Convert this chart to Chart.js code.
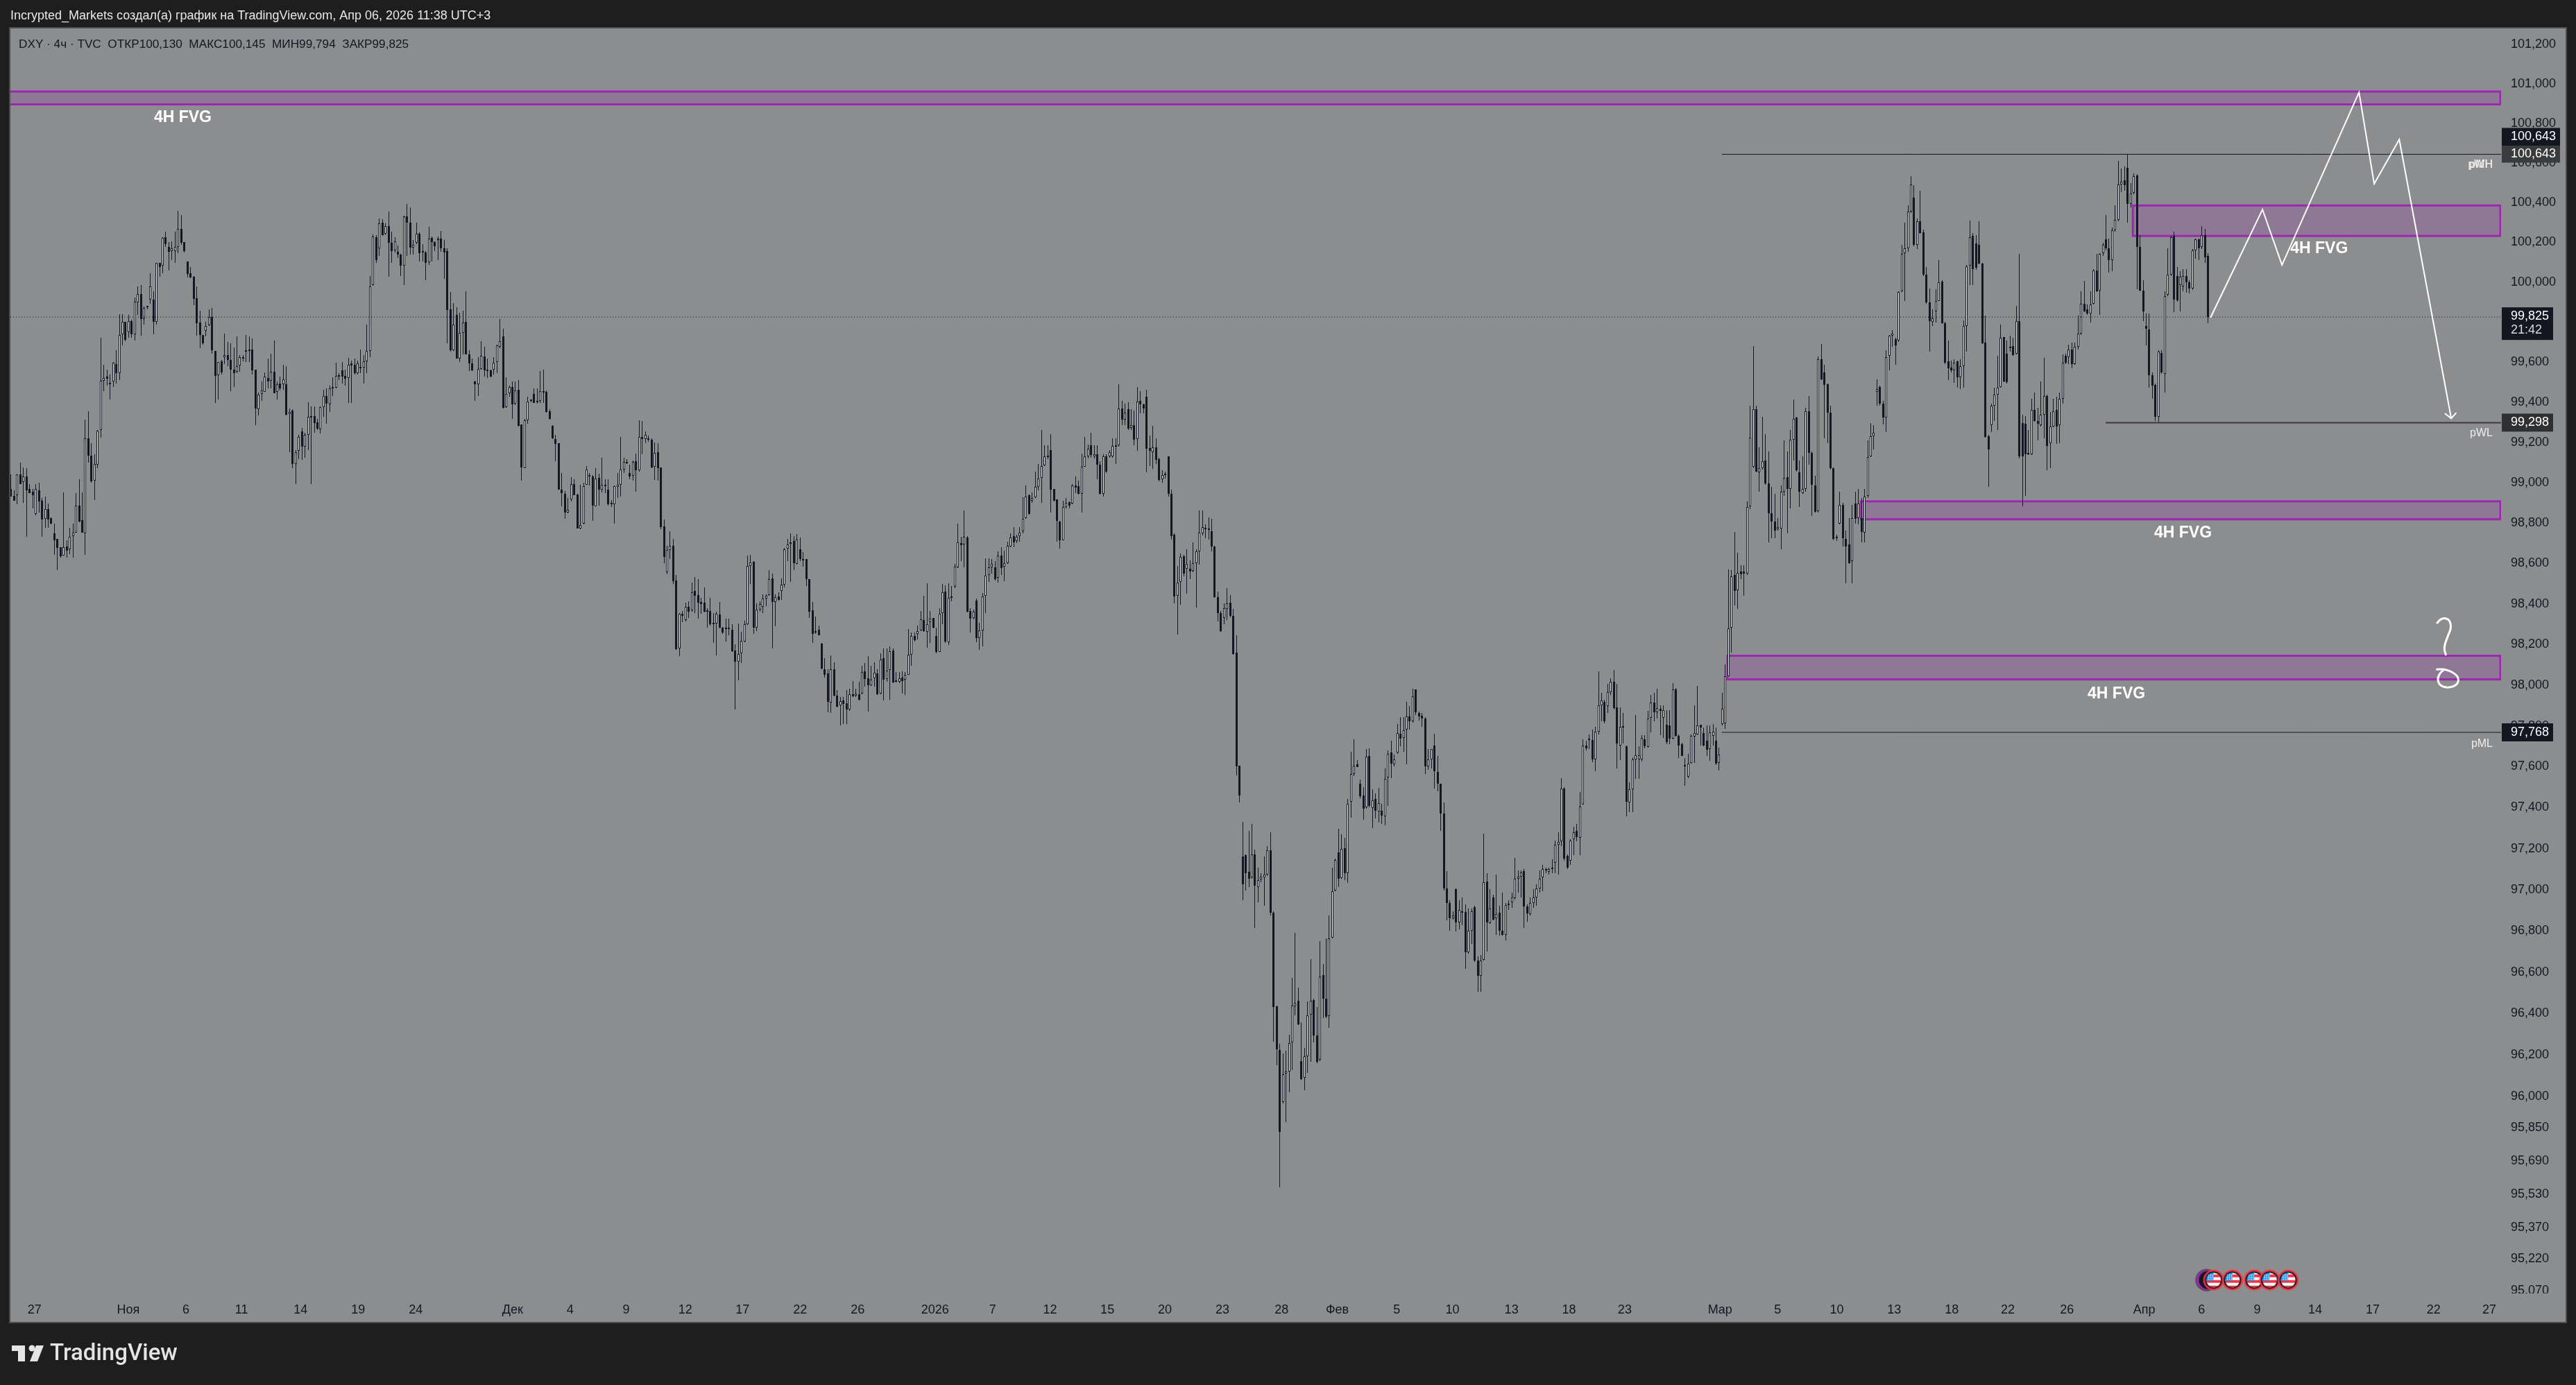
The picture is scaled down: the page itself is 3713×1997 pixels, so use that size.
<!DOCTYPE html>
<html>
<head>
<meta charset="utf-8">
<title>DXY 4ч</title>
<script src="https://cdn.jsdelivr.net/npm/chart.js@4"></script>
<style>
  html, body { margin: 0; background: #1e1e1e; }
  canvas { display: block; }
</style>
</head>
<body>
<canvas id="chart" width="3713" height="1997"></canvas>
<script>
"use strict";

// Candles, in thousandths of an index point (99825 reads as 99,825) ----------
const opens = [
98967,98935,98938,99040,99002,99032,98967,98953,98843,98963,
98911,98820,98870,98825,98748,98720,98680,98637,98684,98668,
98735,98753,98887,98812,98749,99220,99133,99010,99088,99260,
99505,99526,99498,99502,99590,99546,99738,99800,99750,99805,
99738,99900,99940,99815,99878,99912,99914,99802,100098,100082,
100224,100178,100157,100157,100178,100268,100201,100103,100043,100026,
99921,99798,99734,99757,99785,99825,99655,99535,99603,99625,
99636,99611,99563,99551,99583,99625,99655,99660,99664,99561,
99366,99440,99452,99520,99507,99553,99452,99493,99490,99491,
99341,99357,99093,99158,99254,99177,99238,99329,99331,99301,
99264,99375,99431,99389,99468,99472,99533,99558,99530,99519,
99593,99585,99544,99572,99572,99604,99655,99987,100226,100171,
100297,100242,100281,100197,100158,100153,100139,100081,100330,100300,
100173,100197,100243,100150,100148,100100,100222,100201,100210,100219,
100171,100155,99863,99659,99837,99618,99747,99800,99638,99593,
99502,99488,99565,99628,99558,99558,99563,99599,99678,99728,
99376,99443,99477,99394,99461,99289,99072,99308,99407,99442,
99398,99407,99456,99452,99354,99282,
99217,99196,98966,98945,98853,98918,98994,98940,98774,98795,
98990,99037,99030,98883,99023,98966,98990,98964,98894,98892,
98980,98989,99066,99104,99048,99034,99106,99061,99227,99217,
99215,99213,99078,99150,99075,98783,98556,98667,98687,98516,
98181,98351,98319,98385,98368,98465,98442,98408,98404,98361,
98363,98305,98303,98348,98284,98277,98277,98272,98169,98116,
98155,98215,98301,98587,98608,98284,98373,98384,98427,98442,
98525,98410,98436,98463,98496,98673,98698,98710,98599,98669,
98621,98620,98523,98367,98257,98272,98205,98078,98056,97915,
98078,97949,97901,97924,97910,97880,97954,97947,97954,97958,
98069,98033,98000,98033,98057,97958,98131,98030,98073,98171,
98016,98018,98038,98026,98052,98150,98243,98253,98270,98320,
98263,98310,98332,98243,98164,98353,98460,98212,98429,98485,
98580,98702,98694,98728,98365,98329,98417,98233,98270,98441,
98541,98582,98580,98528,98637,98585,98602,98684,98736,98709,
98733,98758,98825,98937,98911,98928,98980,99025,99087,99127,
99162,98968,98917,98806,98715,98880,98903,98896,98987,98982,
98943,99080,99132,99185,99130,99141,99090,98943,99132,99132,
99132,99185,99185,99370,99314,99364,99270,99284,99215,99405,
99389,99428,99171,99152,99174,99116,99016,99038,99132,98945,
98743,98439,98510,98635,98572,98572,98564,98600,98660,98749,
98773,98768,98760,98682,98434,98353,98329,98374,98407,98342,
98159,97605,97162,97168,97088,97059,97173,97014,97051,97059,
97072,97192,96889,96434,96224,95973,96108,96121,96261,96434,
96460,96171,96089,96192,96394,96463,96293,96176,96585,96471,
96386,96768,96996,97181,97056,97202,97080,97427,97564,97612,
97515,97458,97401,97653,97399,97442,97380,97385,97358,97547,
97669,97610,97669,97761,97742,97780,97845,97823,97978,97864,
97848,97837,97601,97637,97702,97575,97518,97372,97006,96934,
96860,97001,96842,96895,96892,96696,96802,96916,96656,96582,
96659,97040,96839,96961,96860,96887,96802,96781,96929,96940,
96958,97054,97062,97091,96919,96881,96934,96961,97006,97059,
97101,97088,97101,97131,97218,97234,97494,97165,97141,97247,
97285,97253,97414,97702,97737,97732,97637,97772,97902,97916,
97897,97965,98018,97889,97705,97794,97699,97426,97488,97637,
97637,97637,97734,97697,97840,97913,97867,97883,97840,
97806,97802,97737,97978,97752,97709,97608,97550,97619,97748,
97759,97806,97763,97727,97688,97752,97727,97619,97808,97813,
98045,98281,98542,98468,98561,98559,98548,98884,99077,99365,
99050,99072,99110,98995,98849,98807,98770,98774,98956,99026,
98967,99214,99323,99050,98949,98967,99356,99146,98987,98857,
99615,99547,99488,99348,99070,98731,98796,98890,98720,98693,
98610,98895,98825,98825,98752,98934,99131,99230,99451,99475,
99394,99322,99631,99731,99713,99709,99953,100147,100171,100354,
100425,100187,100307,100249,100036,99898,99802,99853,99904,100002,
99793,99602,99574,99558,99602,99525,99580,99780,100082,100231,
100194,100187,100094,99697,99230,99285,99383,99438,99477,99724,
99642,99671,99680,99642,99804,99295,99293,99140,99142,99363,
99306,99285,99339,99431,99197,99280,99361,99285,99416,99631,
99624,99664,99591,99675,99742,99893,99864,99842,99893,100060,
99958,100147,100216,100169,100109,100260,100314,100490,100510,100576,
100392,100450,100536,100176,99958,99780,99764,99536,99486,99328,
99644,99541,99938,100036,100231,100031,99987,99980,100031,99998,
99969,100158,100216,100176,100236,100130];

const highs = [
99040,98963,99040,99098,99075,99070,98993,98970,98993,99000,
98922,98931,98896,98826,98798,98720,98680,98951,98715,98776,
98798,98949,99016,98951,99313,99354,99195,99142,99260,99722,
99585,99563,99537,99599,99660,99841,99841,99802,99837,99810,
99923,99979,99986,99877,99882,100045,99955,100096,100098,100224,
100254,100201,100206,100254,100358,100337,100201,100103,100077,100030,
99979,99857,99736,99802,99864,99869,99655,99600,99611,99741,
99699,99695,99674,99727,99634,99634,99736,99727,99717,99561,
99449,99502,99549,99616,99643,99708,99502,99528,99586,99581,
99370,99364,99160,99238,99273,99247,99400,99378,99378,99317,
99378,99463,99467,99484,99523,99596,99546,99599,99563,99620,
99607,99616,99607,99664,99634,99789,100031,100239,100237,100320,
100316,100295,100356,100254,100224,100183,100143,100334,100392,100376,
100210,100298,100249,100192,100157,100277,100228,100206,100228,100258,
100210,100171,99950,99895,99873,99846,99858,99954,99660,99616,
99507,99625,99703,99678,99616,99563,99625,99687,99815,99767,
99523,99484,99502,99502,99510,99289,99317,99428,99414,99467,
99467,99554,99563,99457,99366,99287,
99238,99196,99046,98958,98923,99027,99018,98943,98988,99001,
99083,99048,99036,99071,99045,99123,99018,99018,98913,98987,
99048,99226,99124,99115,99089,99111,99145,99308,99305,99255,
99234,99220,99199,99197,99075,98816,98685,98760,98720,98542,
98353,98365,98404,98413,98504,98534,98522,98430,98480,98378,
98430,98353,98360,98408,98287,98327,98327,98301,98201,98304,
98261,98318,98637,98642,98611,98401,98413,98448,98448,98565,
98551,98448,98456,98525,98676,98720,98750,98734,98745,98728,
98655,98620,98523,98408,98336,98293,98207,98133,98078,98147,
98112,97975,97941,97941,97975,97983,98021,97983,98018,98095,
98109,98142,98095,98112,98078,98155,98181,98181,98190,98181,
98064,98064,98069,98064,98276,98258,98258,98293,98365,98439,
98503,98365,98332,98284,98379,98498,98491,98500,98488,98597,
98796,98732,98861,98734,98379,98370,98427,98305,98453,98625,
98625,98620,98611,98660,98680,98663,98706,98750,98780,98741,
98780,98928,98986,98942,98951,99056,99091,99263,99186,99186,
99242,98968,98917,98810,98909,98923,98906,98993,99032,99011,
99145,99226,99189,99247,99186,99186,99107,99139,99139,99160,
99221,99221,99488,99406,99394,99400,99364,99359,99477,99455,
99394,99463,99234,99281,99221,99124,99063,99055,99132,98964,
98749,98586,98649,98641,98669,98613,98704,98669,98862,98862,
98793,98826,98820,98688,98461,98366,98402,98477,98442,98374,
98245,97605,97330,97173,97285,97320,97194,97107,97080,97160,
97213,97280,96895,96439,96253,96206,96219,96298,96571,96789,
96524,96357,96232,96458,96662,96471,96431,96749,96638,96762,
96874,97107,97152,97298,97271,97253,97442,97672,97734,97631,
97537,97501,97685,97690,97488,97469,97496,97420,97591,97680,
97726,97658,97807,97843,97843,97916,97897,97983,97978,97870,
97862,97843,97685,97685,97761,97653,97517,97425,97091,96948,
96895,97006,96948,96961,96929,96908,96908,96921,96675,96683,
97272,97080,97001,96974,97075,96921,96987,96934,96948,96987,
97154,97093,97093,97099,96929,96961,97001,97027,97093,97120,
97107,97107,97147,97240,97280,97545,97501,97173,97245,97307,
97320,97477,97734,97726,97758,97780,97794,98069,97961,97929,
98005,98032,98075,98005,97889,97862,97705,97523,97645,97854,
97699,97753,97753,97875,97951,97961,97983,97902,97902,
97877,97877,98010,97985,97759,97716,97641,97662,97759,97899,
97995,97806,97791,97802,97802,97808,97791,97694,97963,98103,
98570,98566,98756,98653,98592,98592,98905,99383,99680,99383,
99175,99328,99241,99153,98978,98945,98825,98985,99208,99153,
99263,99412,99328,99110,99131,99372,99431,99153,99033,99628,
99691,99585,99493,99383,99074,98742,98956,98901,98763,98825,
98890,98956,98967,98923,98967,99208,99295,99285,99514,99482,
99405,99658,99735,99758,99720,99953,100187,100298,100387,100532,
100487,100320,100458,100265,100076,99969,99864,99965,100109,100009,
99800,99709,99606,99613,99606,99613,99809,100087,100309,100247,
100236,100305,100098,99831,99236,99394,99471,99631,99786,99726,
99709,99731,99720,99882,100143,99339,99332,99263,99416,99449,
99372,99504,99620,99438,99350,99416,99427,99449,99638,99642,
99686,99697,99697,99831,99953,100005,99887,99953,100065,100143,
100147,100198,100338,100220,100276,100387,100610,100570,100583,100643,
100498,100547,100543,100236,100009,99842,99842,99547,99493,99660,
99660,99953,100169,100231,100254,100076,100054,100065,100065,100009,
100165,100220,100220,100280,100269,100145];

const lows = [
98932,98911,98894,98993,98901,98732,98948,98871,98838,98852,
98732,98776,98776,98793,98642,98568,98628,98637,98628,98646,
98628,98753,98802,98753,98642,99098,99000,98914,99072,99224,
99454,99484,99414,99475,99493,99510,99684,99703,99722,99722,
99706,99837,99731,99788,99864,99891,99738,99789,100027,100045,
100178,100057,100112,100095,100146,100187,100148,100024,100020,99886,
99731,99669,99687,99727,99781,99643,99396,99414,99537,99590,
99581,99454,99475,99546,99551,99604,99599,99599,99537,99285,
99333,99405,99452,99467,99467,99443,99414,99457,99463,99334,
99150,99070,98993,99116,99112,99124,99160,98993,99247,99260,
99243,99326,99291,99352,99431,99470,99510,99493,99484,99396,
99396,99537,99537,99546,99493,99546,99625,99982,100095,100130,
100231,100237,100027,100095,100148,100121,100031,99987,100130,100139,
100139,100192,100103,100103,100010,100086,100103,100157,100112,100153,
100018,99695,99651,99655,99616,99599,99639,99638,99554,99554,
99405,99431,99563,99528,99519,99523,99537,99546,99669,99370,
99373,99428,99317,99387,99278,99010,99072,99294,99400,99396,
99391,99396,99396,99349,99313,99217,
99106,98967,98883,98822,98848,98908,98936,98775,98770,98794,
98990,98984,98810,98883,98885,98950,98949,98887,98878,98796,
98922,98931,99048,99091,99018,99010,98953,99054,99142,99195,
99203,99073,99013,99011,98770,98600,98546,98620,98499,98172,
98143,98310,98315,98332,98361,98353,98327,98350,98357,98284,
98293,98207,98147,98280,98253,98215,98246,98164,97880,98023,
98109,98211,98297,98499,98253,98264,98361,98353,98387,98439,
98181,98288,98417,98418,98482,98611,98508,98568,98594,98611,
98585,98487,98331,98207,98253,98244,98078,98038,97868,97863,
97945,97889,97803,97807,97807,97875,97941,97941,97923,97954,
97992,97871,97995,97992,97952,97954,97923,98018,97928,98009,
98013,98009,97958,97952,98050,98095,98215,98224,98267,98263,
98184,98207,98280,98155,98164,98298,98207,98198,98413,98477,
98577,98611,98580,98358,98258,98322,98210,98172,98190,98353,
98508,98551,98516,98504,98542,98511,98597,98680,98680,98702,
98706,98750,98819,98840,98898,98923,98962,98898,99083,99116,
98852,98906,98706,98674,98713,98871,98871,98894,98949,98940,
98852,99079,99119,99124,99119,99018,98940,98931,99048,99124,
99124,99091,99179,99284,99284,99262,99262,99185,99157,99345,
99345,99052,99083,99069,99091,99008,98999,99019,98931,98718,
98402,98248,98396,98537,98450,98523,98555,98383,98594,98738,
98724,98716,98660,98428,98315,98261,98299,98320,98334,98148,
97556,97424,96950,96995,97014,97054,96813,96940,97035,96921,
97067,96876,96264,96148,95562,95965,95875,96018,96126,96391,
96344,96081,96028,96113,96166,96259,96161,96171,96378,96378,
96330,96762,96993,97014,97054,97046,97033,97350,97553,97598,
97445,97339,97393,97401,97299,97348,97326,97320,97315,97407,
97545,97601,97664,97699,97672,97610,97780,97816,97854,97827,
97794,97564,97583,97591,97493,97480,97285,96997,96850,96802,
96855,96797,96807,96828,96617,96691,96736,96648,96504,96504,
96656,96701,96834,96850,96781,96776,96776,96754,96903,96913,
96953,96987,96961,96813,96844,96874,96913,96921,96987,96993,
97080,97075,97080,97080,97075,97213,97141,97101,97120,97168,
97234,97168,97414,97678,97685,97623,97577,97758,97821,97813,
97862,97951,97881,97591,97631,97713,97358,97377,97377,97539,
97539,97626,97691,97694,97767,97821,97835,97753,97740,
97711,97709,97735,97748,97641,97651,97505,97544,97615,97619,
97754,97705,97701,97651,97630,97705,97608,97580,97802,97785,
98043,98161,98393,98376,98522,98440,98544,98868,99070,99050,
98956,99066,98989,98704,98726,98726,98763,98671,98934,98750,
98873,99110,99055,98879,98945,98956,99088,98836,98851,98851,
99510,99219,99197,99066,98715,98711,98792,98682,98500,98599,
98500,98798,98792,98704,98704,98923,99127,99164,99383,99383,
99289,99252,99558,99675,99585,99702,99949,99904,100154,100347,
100180,100165,100243,100031,99893,99653,99780,99798,99904,99791,
99591,99510,99547,99497,99471,99464,99471,99653,99987,99987,
100062,100091,99689,99223,98978,99252,99306,99263,99471,99499,
99493,99653,99631,99638,99120,98884,98934,99136,99138,99302,
99208,99280,99219,99061,99070,99274,99193,99197,99394,99591,
99591,99569,99587,99664,99735,99849,99835,99798,99889,99949,
99835,100131,100160,100047,100054,100254,100305,100454,100458,100298,
100376,100443,99965,99953,99804,99682,99471,99416,99306,99295,
99541,99449,99931,100031,99849,99902,99853,99953,99947,99942,
99960,100116,100109,100165,100098,99794];

const closes = [
98932,98911,99040,98993,99032,98962,98948,98936,98967,98905,
98817,98870,98817,98798,98715,98675,98635,98680,98663,98730,
98751,98887,98807,98753,99220,99135,99007,99093,99258,99507,
99519,99516,99488,99596,99544,99734,99802,99710,99805,99738,
99902,99939,99815,99871,99873,99979,99802,100096,100075,100222,
100192,100153,100171,100176,100268,100197,100155,100040,100024,99916,
99796,99736,99693,99781,99825,99659,99532,99600,99549,99634,
99611,99563,99546,99579,99623,99616,99651,99655,99558,99370,
99438,99459,99528,99502,99551,99445,99490,99467,99512,99338,
99352,99093,99152,99228,99177,99238,99326,99324,99296,99268,
99377,99431,99393,99470,99477,99532,99528,99528,99516,99585,
99583,99544,99593,99568,99604,99655,99980,100228,100112,100295,
100237,100281,100197,100157,100206,100139,100082,100330,100298,100174,
100188,100243,100146,100148,100095,100220,100201,100180,100217,100169,
100150,99860,99659,99788,99618,99747,99798,99638,99593,99558,
99488,99565,99632,99558,99556,99528,99596,99684,99703,99373,
99440,99475,99389,99459,99282,99074,99308,99403,99405,99396,
99408,99456,99447,99352,99317,99221,
99194,98966,98947,98850,98865,98994,98936,98774,98788,98983,
99065,99030,98887,99021,98966,98990,98982,98892,98892,98982,
98990,99066,99104,99095,99032,99104,99062,99227,99217,99236,
99213,99076,99148,99071,98781,98631,98667,98685,98511,98178,
98351,98339,98384,98361,98458,98439,98404,98398,98360,98360,
98298,98301,98351,98284,98258,98275,98275,98166,98114,98152,
98217,98299,98587,98604,98282,98373,98398,98425,98441,98523,
98408,98432,98420,98494,98668,98692,98704,98602,98716,98620,
98616,98523,98361,98253,98267,98246,98081,98052,97917,98078,
97949,97893,97920,97907,97880,97954,97946,97958,97929,98064,
98030,97999,98026,98059,97956,98126,98026,98071,98167,98014,
98023,98035,98021,98049,98148,98241,98220,98267,98322,98267,
98301,98327,98284,98164,98351,98458,98215,98429,98438,98584,
98704,98689,98730,98361,98327,98360,98233,98270,98438,98539,
98580,98597,98522,98637,98577,98602,98685,98728,98705,98731,
98751,98819,98932,98845,98923,98978,99021,99083,99129,99134,
98966,98911,98810,98715,98878,98899,98885,98987,98976,98943,
99080,99130,99169,99136,99139,99088,98943,99132,99055,99150,
99182,99179,99370,99312,99348,99267,99287,99212,99403,99389,
99370,99168,99157,99174,99113,99014,99036,99036,98945,98735,
98437,98504,98633,98550,98599,98561,98600,98660,98751,98781,
98768,98765,98682,98434,98353,98264,98380,98402,98339,98154,
97600,97458,97027,97080,97054,97173,97019,97048,97062,97075,
97192,96887,96431,96227,95829,96105,96119,96258,96436,96452,
96346,96083,96192,96391,96460,96293,96166,96580,96471,96383,
96765,96993,97146,97054,97200,97080,97420,97564,97604,97598,
97456,97394,97650,97407,97434,97383,97423,97361,97542,97664,
97615,97634,97763,97737,97777,97845,97821,97945,97867,97845,
97837,97601,97634,97688,97577,97518,97372,97006,96934,96860,
96873,96842,96903,96889,96696,96802,96895,96656,96582,96656,
97035,96842,96908,96855,96881,96802,96781,96924,96924,96961,
97054,97062,97083,96919,96884,96934,96961,97006,97054,97101,
97093,97099,97099,97218,97232,97494,97152,97107,97240,97280,
97256,97406,97705,97691,97732,97634,97772,97899,97923,97821,
97965,98018,97886,97713,97794,97791,97429,97488,97637,97656,
97656,97740,97699,97837,97913,97867,97886,97872,97878,
97722,97737,97978,97752,97705,97653,97602,97615,97752,97763,
97802,97791,97705,97684,97767,97770,97615,97658,97883,98045,
98279,98537,98464,98553,98546,98550,98880,99225,99365,99055,
99072,99105,98995,98847,98807,98763,98781,98956,99022,98967,
99212,99315,99061,98956,98967,99354,99149,98989,98855,99613,
99514,99486,99348,99070,98722,98724,98890,98724,98682,98601,
98825,98820,98895,98754,98930,99127,99230,99249,99464,99394,
99322,99624,99731,99742,99684,99949,100143,100169,100354,100492,
100187,100307,100247,100036,99898,99804,99820,99904,99998,99793,
99595,99569,99558,99598,99525,99580,99780,100080,100227,100065,
100071,100094,99693,99228,99164,99381,99438,99471,99720,99503,
99499,99675,99635,99804,99131,99131,99142,99149,99361,99306,
99291,99339,99431,99182,99280,99354,99280,99416,99598,99595,
99664,99591,99675,99742,99893,99853,99842,99887,100060,99953,
100143,100187,100169,100109,100260,100314,100492,100503,100487,100392,
100445,100534,100176,99958,99853,99766,99536,99482,99328,99653,
99547,99931,100036,100227,99911,99909,100027,100031,99998,99969,
100158,100214,100171,100236,100125,99825];

// Axis labels -----------------------------------------------------------------
const priceTicks = [101200,101000,100800,100600,100400,100200,100000,99800,99600,99400,99200,99000,
  98800,98600,98400,98200,98000,97800,97600,97400,97200,97000,96800,96600,96400,96200,96000,
  95850,95690,95530,95370,95220,95070];
const timeTickBars = [7.7,38,56.6,74.6,93.7,112.3,130.9,162.2,180.8,198.9,218,236.5,255.1,273.7,298.7,317.3,
  335.9,354.4,373,391.6,410.7,428.7,447.9,465.9,485,503.6,521.6,552.4,571,590.1,608.7,627.3,645.4,664.5,
  689.5,708,726,744.7,763.3,783,801];
const timeTickLabels = ["27","Ноя","6","11","14","19","24","Дек","4","9","12","17","22","26","2026","7",
  "12","15","20","23","28","Фев","5","10","13","18","23","Мар","5","10","13","18","22","26",
  "Апр","6","9","14","17","22","27"];

// Drawings on the chart -------------------------------------------------------
const zoneFrom = [-1, 685.8, 597.9, 554.8];
const zoneTop = [100960, 100385, 98907, 98144];
const zoneBottom = [100895, 100232, 98818, 98028];
const zoneLabelBars = [55.6, 746, 702, 680.5];
const zoneLabelPrices = [100827, 100166, 98750, 97955];

const pathBars = [710.9, 727.7, 734, 758.9, 763.8, 771.9, 788.7];
const pathPrices = [99822, 100365, 100086, 100956, 100494, 100718, 99319];
const arrowBars = [786.6, 788.7, 790.3];
const arrowPrices = [99344, 99319, 99347];
const hookBars = [784, 785.3, 786.9, 788.2, 788.5, 787.6, 786.7, 786.5, 787];
const hookPrices = [98303, 98323, 98328, 98313, 98280, 98241, 98202, 98176, 98146];
const ringBars = [783.8, 786.5, 789, 790.8, 790.5, 788, 785.4, 784.4, 785, 786.5];
const ringPrices = [98077, 98077, 98063, 98038, 98005, 97989, 97998, 98026, 98056, 98077];

const levelPrices = [100643, 99298, 97768];
const levelFrom = [553, 677, 553];
const levelColors = ["#131722", "#3a3b3d", "#131722"];
const levelTexts = [["pMH", "pWH"], ["pWL"], ["pML"]];
const levelTextPrices = [100590, 99245, 97710];
const lastClose = 99825;

const eventBars = [711.9, 718, 725, 730, 736];
const eventBackBar = [709.6];
const eventPrice = 95120;

// Layout ----------------------------------------------------------------------
const PANE = { left: 15, top: 41, right: 3698, bottom: 1906 };
const XMIN = -0.1;
const XMAX = 804.8;
const BG = "#8c8d8f";
const DARK = "#131722";
const FONT = '"Liberation Sans", Arial, sans-serif';

const fmtPrice = (v) => (v / 1000).toFixed(3).replace(".", ",");
const toPoints = (xs, ys) => xs.map((x, i) => ({ x, y: ys[i] }));

function lineSet(xs, ys, color, width, extra = {}) {
  return { type: "line", data: toPoints(xs, ys), borderColor: color, borderWidth: width,
    pointRadius: 0, fill: false, order: 0, ...extra };
}

// Little flag used by the economic-calendar marks
function flagIcon() {
  const c = document.createElement("canvas");
  c.width = c.height = 32;
  const g = c.getContext("2d");
  g.beginPath(); g.arc(16, 16, 15, 0, Math.PI * 2); g.fillStyle = "#f23645"; g.fill();
  g.beginPath(); g.arc(16, 16, 12.5, 0, Math.PI * 2); g.fillStyle = "#131722"; g.fill();
  g.save();
  g.beginPath(); g.arc(16, 16, 10.5, 0, Math.PI * 2); g.clip();
  g.fillStyle = "#ffffff"; g.fillRect(4, 4, 24, 24);
  g.fillStyle = "#f23645";
  g.fillRect(4, 8, 24, 4); g.fillRect(4, 16, 24, 4); g.fillRect(4, 24, 24, 4);
  g.fillStyle = "#2196f3"; g.fillRect(4, 4, 12, 13);
  g.fillStyle = "#ffffff";
  for (let y = 8; y < 17; y += 3) for (let x = 8; x < 16; x += 3) g.fillRect(x, y, 1.5, 1.5);
  g.restore();
  return c;
}
function backIcon() {
  const c = document.createElement("canvas");
  c.width = c.height = 34;
  const g = c.getContext("2d");
  g.beginPath(); g.arc(17, 17, 16, 0, Math.PI * 2); g.fillStyle = "#4a4a4c"; g.fill();
  g.beginPath(); g.arc(17, 17, 14.5, 0, Math.PI * 2); g.fillStyle = "#9c27b0"; g.fill();
  g.beginPath(); g.arc(19, 17, 13, 0, Math.PI * 2); g.fillStyle = "#131722"; g.fill();
  return c;
}

// Plugins ---------------------------------------------------------------------
// Snap bars to whole pixels, the way the real chart renders its candles
const snapBars = {
  id: "snapBars",
  afterDatasetsUpdate(chart) {
    chart.data.datasets.forEach((ds, k) => {
      if (ds.type !== "bar") return;
      chart.getDatasetMeta(k).data.forEach((el) => {
        el.x = Math.round(el.x) + 0.5;
        el.y = Math.round(el.y);
        el.base = Math.round(el.base);
      });
    });
  },
};

const paneFrame = {
  id: "paneFrame",
  beforeDraw(chart) {
    const c = chart.ctx;
    c.save();
    c.fillStyle = "#1e1e1e";
    c.fillRect(0, 0, chart.width, chart.height);
    c.fillStyle = BG;
    c.fillRect(PANE.left, PANE.top, PANE.right - PANE.left, PANE.bottom - PANE.top);
    c.strokeStyle = "#4b4c4e";
    c.lineWidth = 2;
    c.strokeRect(PANE.left - 1, PANE.top - 1, PANE.right - PANE.left + 2, PANE.bottom - PANE.top + 2);
    c.restore();
  },
};

const zones = {
  id: "zones",
  beforeDatasetsDraw(chart) {
    const { ctx: c, chartArea: a, scales: { x, y } } = chart;
    c.save();
    c.beginPath();
    c.rect(a.left, a.top, a.right - a.left, a.bottom - a.top);
    c.clip();
    zoneFrom.forEach((from, i) => {
      const l = Math.max(x.getPixelForValue(from), a.left - 5);
      const t = y.getPixelForValue(zoneTop[i]);
      const b = y.getPixelForValue(zoneBottom[i]);
      c.fillStyle = "rgba(156,39,176,0.2)";
      c.fillRect(l, t, a.right - l, b - t);
      c.strokeStyle = "#9c27b0";
      c.lineWidth = 3;
      c.strokeRect(l, t, a.right - l - 1, b - t);
    });
    c.restore();
  },
};

const texts = {
  id: "texts",
  afterDraw(chart) {
    const { ctx: c, chartArea: a, scales: { x, y } } = chart;
    c.save();
    c.textBaseline = "middle";

    // hides what hangs below the price scale, the last tick is cut in half
    c.fillStyle = BG;
    c.fillRect(a.right, a.bottom, PANE.right - a.right, 12);

    // 4H FVG labels
    c.fillStyle = "#ffffff";
    c.font = "bold 23px " + FONT;
    c.textAlign = "center";
    zoneLabelBars.forEach((b, i) => {
      c.fillText("4H FVG", x.getPixelForValue(b), y.getPixelForValue(zoneLabelPrices[i]));
    });

    // level names
    c.font = "16px " + FONT;
    c.textAlign = "right";
    c.fillStyle = "#eeeeee";
    levelTexts.forEach((names, i) => {
      names.forEach((n) => c.fillText(n, a.right - 12, y.getPixelForValue(levelTextPrices[i])));
    });

    // price labels on the scale
    const box = (v, h, w, color, lines) => {
      const py = y.getPixelForValue(v);
      c.fillStyle = color;
      c.fillRect(a.right + 1, py - h / 2, w, h);
      c.fillStyle = "#ffffff";
      c.font = "18px " + FONT;
      c.textAlign = "left";
      lines.forEach((t, i) => c.fillText(t, a.right + 14, py + (i - (lines.length - 1) / 2) * 21));
    };
    const ly = y.getPixelForValue(lastClose);
    box(levelPrices[0], 24, 84, "#3a3b3d", [fmtPrice(levelPrices[0])]);
    c.fillStyle = DARK;
    c.fillRect(a.right + 1, y.getPixelForValue(levelPrices[0]) - 38, 84, 26);
    c.fillStyle = "#ffffff";
    c.font = "18px " + FONT;
    c.textAlign = "left";
    c.fillText(fmtPrice(levelPrices[0]), a.right + 14, y.getPixelForValue(levelPrices[0]) - 25);
    c.fillStyle = DARK;
    c.fillRect(a.right + 1, ly - 14, 74, 47);
    c.fillStyle = "#ffffff";
    c.fillText(fmtPrice(lastClose), a.right + 14, ly - 1);
    c.fillStyle = "#d7d8da";
    c.fillText("21:42", a.right + 14, ly + 19);
    box(levelPrices[1], 26, 74, "#2f3032", [fmtPrice(levelPrices[1])]);
    box(levelPrices[2], 26, 74, DARK, [fmtPrice(levelPrices[2])]);

    // header and legend
    c.textAlign = "left";
    c.fillStyle = "#e8e8e8";
    c.font = "18px " + FONT;
    c.fillText("Incrypted_Markets создал(а) график на TradingView.com, Апр 06, 2026 11:38 UTC+3", 15, 23);
    c.fillStyle = DARK;
    c.font = "17.2px " + FONT;
    c.fillText("DXY · 4ч · TVC  ОТКР100,130  МАКС100,145  МИН99,794  ЗАКР99,825", 27, 64);

    // logo
    c.fillStyle = "#e4e4e4";
    c.fillRect(17, 1940, 19, 8);
    c.fillRect(26, 1940, 10, 23);
    c.beginPath(); c.arc(46, 1944, 4.5, 0, Math.PI * 2); c.fill();
    c.beginPath();
    c.moveTo(52, 1940); c.lineTo(63, 1940); c.lineTo(54, 1963); c.lineTo(43, 1963);
    c.closePath(); c.fill();
    c.font = '500 33px Roboto, ' + FONT;
    c.fillText("TradingView", 72, 1953);
    c.restore();
  },
};

// Chart -----------------------------------------------------------------------
const bars = opens.map((_, i) => i);

new Chart(document.getElementById("chart"), {
  type: "bar",
  plugins: [snapBars, paneFrame, zones, texts],
  data: {
    datasets: [
      lineSet(pathBars, pathPrices, "#ffffff", 2),
      lineSet(arrowBars, arrowPrices, "#ffffff", 2),
      lineSet(hookBars, hookPrices, "#ffffff", 3, { tension: 0.4 }),
      lineSet(ringBars, ringPrices, "#ffffff", 3, { tension: 0.4 }),
      { type: "line", data: eventBackBar.map((x) => ({ x, y: eventPrice })), showLine: false,
        pointStyle: backIcon(), order: 0.5 },
      { type: "line", data: eventBars.map((x) => ({ x, y: eventPrice })), showLine: false,
        pointStyle: flagIcon(), order: 0 },
      ...levelPrices.map((p, i) => lineSet([levelFrom[i], XMAX], [p, p], levelColors[i], i === 1 ? 2 : 1, { order: 1 })),
      lineSet([XMIN, XMAX], [lastClose, lastClose], DARK, 1, { borderDash: [1, 3], order: 1 }),
      {
        type: "bar",
        data: bars.map((i) => ({ x: i, y: [opens[i], closes[i]] })),
        backgroundColor: bars.map((i) => (closes[i] >= opens[i] ? "#ffffff" : DARK)),
        borderColor: DARK,
        borderWidth: 1,
        borderSkipped: false,
        inflateAmount: 0,
        barThickness: 3,
        minBarLength: 2,
        grouped: false,
        order: 2,
      },
      {
        type: "bar",
        data: bars.map((i) => ({ x: i, y: [lows[i], highs[i]] })),
        backgroundColor: DARK,
        borderWidth: 0,
        inflateAmount: 0,
        barThickness: 1,
        grouped: false,
        order: 3,
      },
    ],
  },
  options: {
    responsive: false,
    animation: false,
    events: [],
    layout: { autoPadding: false, padding: { left: 15, top: 41, right: 15, bottom: 91 } },
    plugins: { legend: { display: false }, tooltip: { enabled: false } },
    scales: {
      x: {
        type: "linear",
        offset: false,
        min: XMIN,
        max: XMAX,
        grid: { display: false, drawTicks: false },
        border: { display: false },
        afterFit: (s) => { s.height = 41; },
        afterBuildTicks: (s) => { s.ticks = timeTickBars.map((value) => ({ value })); },
        ticks: {
          autoSkip: false,
          maxRotation: 0,
          padding: 13,
          color: DARK,
          font: { family: FONT, size: 18 },
          callback: (v, i) => timeTickLabels[i],
        },
      },
      y: {
        type: "logarithmic",
        position: "right",
        min: 95056,
        max: 101280,
        grid: { display: false, drawTicks: false },
        border: { display: false },
        afterFit: (s) => { s.width = 93; },
        afterBuildTicks: (s) => { s.ticks = priceTicks.map((value) => ({ value })); },
        ticks: {
          autoSkip: false,
          padding: 14,
          crossAlign: "near",
          color: DARK,
          font: { family: FONT, size: 18 },
          callback: (v) => fmtPrice(v),
        },
      },
    },
  },
});
</script>
</body>
</html>
